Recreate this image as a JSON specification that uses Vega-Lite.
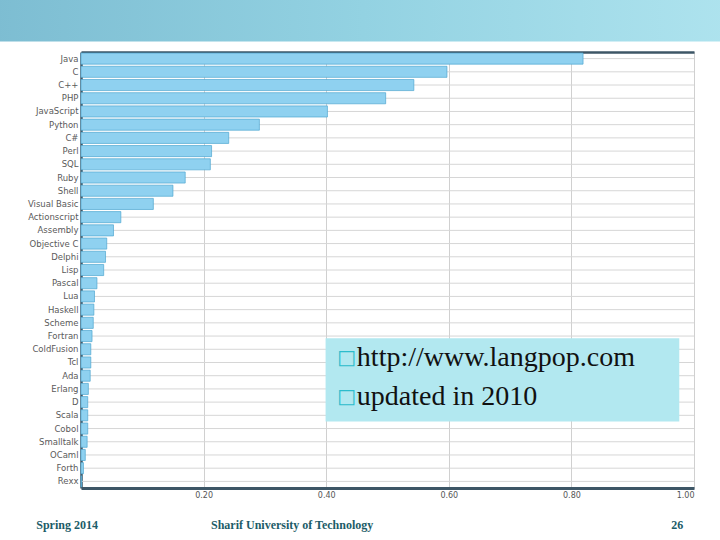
{
  "$schema": "https://vega.github.io/schema/vega-lite/v6.json",
  "width": 613,
  "height": 436,
  "autosize": "none",
  "padding": {"left": 81, "top": 52, "right": 26, "bottom": 52},
  "background": "#ffffff",
  "config": {
    "view": {"stroke": "#c8c8c8", "strokeWidth": 1},
    "font": "DejaVu Sans"
  },
  "datasets": {
    "langs": [
      {"lang": "Java", "share": 0.819},
      {"lang": "C", "share": 0.597},
      {"lang": "C++", "share": 0.543},
      {"lang": "PHP", "share": 0.497},
      {"lang": "JavaScript", "share": 0.402},
      {"lang": "Python", "share": 0.291},
      {"lang": "C#", "share": 0.241},
      {"lang": "Perl", "share": 0.213},
      {"lang": "SQL", "share": 0.211},
      {"lang": "Ruby", "share": 0.170},
      {"lang": "Shell", "share": 0.150},
      {"lang": "Visual Basic", "share": 0.118},
      {"lang": "Actionscript", "share": 0.065},
      {"lang": "Assembly", "share": 0.053},
      {"lang": "Objective C", "share": 0.042},
      {"lang": "Delphi", "share": 0.040},
      {"lang": "Lisp", "share": 0.037},
      {"lang": "Pascal", "share": 0.026},
      {"lang": "Lua", "share": 0.022},
      {"lang": "Haskell", "share": 0.021},
      {"lang": "Scheme", "share": 0.020},
      {"lang": "Fortran", "share": 0.018},
      {"lang": "ColdFusion", "share": 0.016},
      {"lang": "Tcl", "share": 0.016},
      {"lang": "Ada", "share": 0.015},
      {"lang": "Erlang", "share": 0.012},
      {"lang": "D", "share": 0.011},
      {"lang": "Scala", "share": 0.011},
      {"lang": "Cobol", "share": 0.011},
      {"lang": "Smalltalk", "share": 0.010},
      {"lang": "OCaml", "share": 0.007},
      {"lang": "Forth", "share": 0.004},
      {"lang": "Rexx", "share": 0.001}
    ]
  },
  "resolve": {"axis": {"x": "independent", "y": "independent"}},
  "layer": [
    {
      "data": {"name": "langs"},
      "mark": {"type": "rule", "color": "#d6d6d6", "strokeWidth": 1},
      "encoding": {
        "y": {
          "field": "lang", "type": "nominal",
          "scale": {"paddingInner": 0.16, "paddingOuter": 0.08,
            "domain": ["Java","C","C++","PHP","JavaScript","Python","C#","Perl","SQL","Ruby","Shell","Visual Basic","Actionscript","Assembly","Objective C","Delphi","Lisp","Pascal","Lua","Haskell","Scheme","Fortran","ColdFusion","Tcl","Ada","Erlang","D","Scala","Cobol","Smalltalk","OCaml","Forth","Rexx"]},
          "axis": null
        },
        "x": {"datum": 0, "type": "quantitative", "axis": null},
        "x2": {"datum": 1}
      }
    },
    {
      "data": {"name": "langs"},
      "mark": {"type": "bar", "color": "#8fd1f0", "stroke": "#4fa6d0", "strokeWidth": 0.7},
      "encoding": {
        "y": {
          "field": "lang", "type": "nominal",
          "axis": {
            "title": null, "grid": false,
            "ticks": false, "labelPadding": 3, "labelFontSize": 8.5, "labelColor": "#5a5a5a",
            "domainColor": "#3d5666", "domainWidth": 2.5
          }
        },
        "x": {
          "field": "share", "type": "quantitative",
          "scale": {"domain": [0, 1], "nice": false},
          "axis": {
            "title": null, "values": [0.2, 0.4, 0.6, 0.8, 1.0], "format": ".2f",
            "grid": true, "gridColor": "#d0d0d0", "ticks": false, "labelFontSize": 8,
            "labelColor": "#555555", "labelPadding": 3, "domainColor": "#3d5666", "domainWidth": 3
          }
        }
      }
    },
    {
      "data": {"values": [{"note": "banner"}]},
      "mark": {"type": "rect", "clip": false, "yOffset": -60, "y2Offset": -17,
        "color": {"gradient": "linear", "x1": 0, "y1": 0, "x2": 1, "y2": 0,
          "stops": [{"offset": 0, "color": "#7dbdd2"}, {"offset": 0.5, "color": "#93d2e2"}, {"offset": 1, "color": "#aee3ee"}]}},
      "encoding": {
        "x": {"datum": -0.14, "type": "quantitative", "axis": null},
        "x2": {"datum": 1.06},
        "y": {"datum": "Java", "type": "nominal", "axis": null},
        "y2": {"datum": "Java"}
      }
    },
    {
      "data": {"values": [{"note": "box"}]},
      "mark": {"type": "rect", "color": "#b2e8f0", "yOffset": -11, "y2Offset": -7},
      "encoding": {
        "x": {"datum": 0.399, "type": "quantitative",
          "axis": {"orient": "top", "labels": false, "ticks": false, "grid": false, "title": null, "domainColor": "#3d5666", "domainWidth": 2.5}},
        "x2": {"datum": 0.976},
        "y": {"datum": "ColdFusion", "type": "nominal", "axis": null},
        "y2": {"datum": "Cobol"}
      }
    },
    {
      "data": {"values": [{"t": "http://www.langpop.com"}, {"t": "updated in 2010"}]},
      "transform": [{"filter": "datum.t == 'http://www.langpop.com'"}],
      "layer": [
        {
          "mark": {"type": "text", "text": "□", "font": "DejaVu Sans", "fontSize": 20, "color": "#2cbccc", "align": "left", "baseline": "middle", "dy": -4},
          "encoding": {"x": {"datum": 0.418, "type": "quantitative", "axis": null}, "y": {"datum": "Tcl", "type": "nominal", "axis": null}}
        },
        {
          "mark": {"type": "text", "font": "Liberation Serif", "fontSize": 28, "color": "#111111", "align": "left", "baseline": "middle", "dy": -4},
          "encoding": {"text": {"field": "t"}, "x": {"datum": 0.45, "type": "quantitative", "axis": null}, "y": {"datum": "Tcl", "type": "nominal", "axis": null}}
        }
      ]
    },
    {
      "data": {"values": [{"t": "http://www.langpop.com"}, {"t": "updated in 2010"}]},
      "transform": [{"filter": "datum.t == 'updated in 2010'"}],
      "layer": [
        {
          "mark": {"type": "text", "text": "□", "font": "DejaVu Sans", "fontSize": 20, "color": "#2cbccc", "align": "left", "baseline": "middle", "dy": -5},
          "encoding": {"x": {"datum": 0.418, "type": "quantitative", "axis": null}, "y": {"datum": "D", "type": "nominal", "axis": null}}
        },
        {
          "mark": {"type": "text", "font": "Liberation Serif", "fontSize": 28, "color": "#111111", "align": "left", "baseline": "middle", "dy": -5},
          "encoding": {"text": {"field": "t"}, "x": {"datum": 0.45, "type": "quantitative", "axis": null}, "y": {"datum": "D", "type": "nominal", "axis": null}}
        }
      ]
    },
    {
      "data": {"values": [{"t": "Spring 2014"}]},
      "mark": {"type": "text", "font": "Liberation Serif", "fontSize": 12, "fontWeight": "bold", "color": "#1d5c68", "align": "left", "baseline": "middle", "dy": 44},
      "encoding": {"text": {"field": "t"}, "x": {"datum": -0.073, "type": "quantitative", "axis": null}, "y": {"datum": "Rexx", "type": "nominal", "axis": null}}
    },
    {
      "data": {"values": [{"t": "Sharif University of Technology"}]},
      "mark": {"type": "text", "font": "Liberation Serif", "fontSize": 12, "fontWeight": "bold", "color": "#1d5c68", "align": "left", "baseline": "middle", "dy": 44},
      "encoding": {"text": {"field": "t"}, "x": {"datum": 0.212, "type": "quantitative", "axis": null}, "y": {"datum": "Rexx", "type": "nominal", "axis": null}}
    },
    {
      "data": {"values": [{"t": "26"}]},
      "mark": {"type": "text", "font": "Liberation Serif", "fontSize": 12, "fontWeight": "bold", "color": "#1d5c68", "align": "left", "baseline": "middle", "dy": 44},
      "encoding": {"text": {"field": "t"}, "x": {"datum": 0.963, "type": "quantitative", "axis": null}, "y": {"datum": "Rexx", "type": "nominal", "axis": null}}
    }
  ]
}
